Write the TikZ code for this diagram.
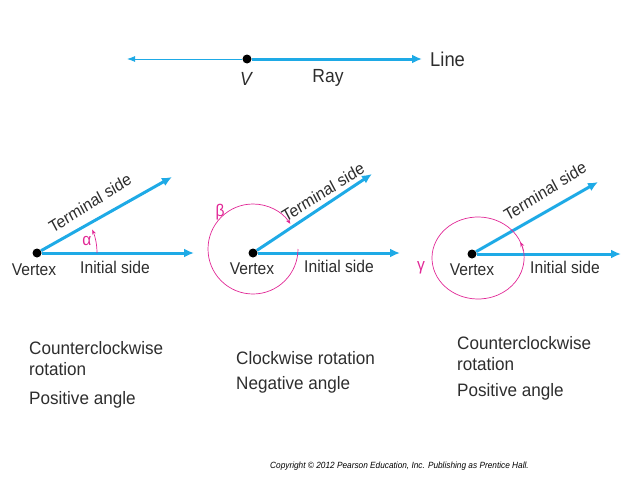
\documentclass[tikz,border=0pt]{standalone}
\usepackage{fontspec}
\setmainfont{Liberation Sans}
\usetikzlibrary{arrows.meta}
\definecolor{cy}{RGB}{30,170,230}
\definecolor{mg}{RGB}{225,40,150}
\definecolor{tx}{RGB}{45,45,45}
\begin{document}
\begin{tikzpicture}[x=1pt,y=-1pt,
  ray/.style={draw=cy,line width=3pt,-{Latex[length=10pt,width=9pt]}},
  thin/.style={draw=cy,line width=0.9pt,-{Latex[length=8pt,width=6pt]}},
  ang/.style={draw=mg,line width=0.7pt,-{Stealth[length=5pt,width=4pt]}},
  lab/.style={text=tx,font=\fontsize{17}{17}\selectfont,inner sep=0pt,xscale=0.92},
  big/.style={text=tx,font=\fontsize{18}{18}\selectfont,inner sep=0pt,anchor=west,xscale=0.95},
  dot/.style={circle,fill=black,inner sep=0pt,minimum size=9pt}]
\useasboundingbox (0,0) rectangle (638,479);
% top
\node[dot] (V) at (247,59) {};
\coordinate (L) at (127,59);
\coordinate (R) at (422,59);
\draw[thin] (V) -- (L);
\draw[ray] (V) -- (R);
\node[lab,anchor=west,font=\fontsize{20}{20}\selectfont] (line) at (430,59) {Line};
\node[lab,font=\itshape\fontsize{19}{19}\selectfont] (v) at (246,79) {V};
\node[lab,font=\fontsize{19}{19}\selectfont] (ray) at (328,78) {Ray};
% panel 1
\node[dot] (A) at (37,253) {};
\coordinate (A1) at (194,253);
\coordinate (A2) at (172,177);
\draw[ray] (A) -- (A1);
\draw[ray] (A) -- (A2);
\draw[ang] (97,253) arc[start angle=0,end angle=-23,radius=60];
\node[lab,text=mg] (al) at (87,241) {α};
\node[lab,rotate=30] (t1) at (90,203) {Terminal side};
\node[lab] (i1) at (115,267) {Initial side};
\node[lab] (v1) at (34,270) {Vertex};
% panel 2
\node[dot] (B) at (253,253) {};
\coordinate (B1) at (400,253);
\coordinate (B2) at (372,174);
\draw[ray] (B) -- (B1);
\draw[ray] (B) -- (B2);
\draw[ang] (253,249) ++(0:45) arc[start angle=0,end angle=326,radius=45];
\node[lab,text=mg] (be) at (220,212) {β};
\node[lab,rotate=30] (t2) at (323,192) {Terminal side};
\node[lab] (i2) at (339,266) {Initial side};
\node[lab] (v2) at (252,269) {Vertex};
% panel 3
\node[dot] (C) at (472,254) {};
\coordinate (C1) at (621,254);
\coordinate (C2) at (598,182);
\draw[ray] (C) -- (C1);
\draw[ray] (C) -- (C2);
\draw[ang] (478,258) ++(-10:46 and 41) arc[start angle=-10,end angle=-383,x radius=46,y radius=41];
\node[lab,text=mg] (ga) at (421,268) {γ};
\node[lab,rotate=30] (t3) at (545,191) {Terminal side};
\node[lab] (i3) at (565,267) {Initial side};
\node[lab] (v3) at (472,270) {Vertex};
% captions
\node[big] (c1) at (29,348) {Counterclockwise};
\node[big] (c2) at (29,369) {rotation};
\node[big] (c3) at (29,400) {Positive angle};
\node[big] (d1) at (236,358) {Clockwise rotation};
\node[big] (d2) at (236,385) {Negative angle};
\node[big] (e1) at (457,343) {Counterclockwise};
\node[big] (e2) at (457,364) {rotation};
\node[big] (e3) at (457,392) {Positive angle};
\node[lab,anchor=west,font=\itshape\fontsize{9}{9}\selectfont,text=black,xscale=1] (cp) at (270,466) {Copyright © 2012 Pearson Education, Inc. Publishing as Prentice Hall.};
\end{tikzpicture}
\end{document}
